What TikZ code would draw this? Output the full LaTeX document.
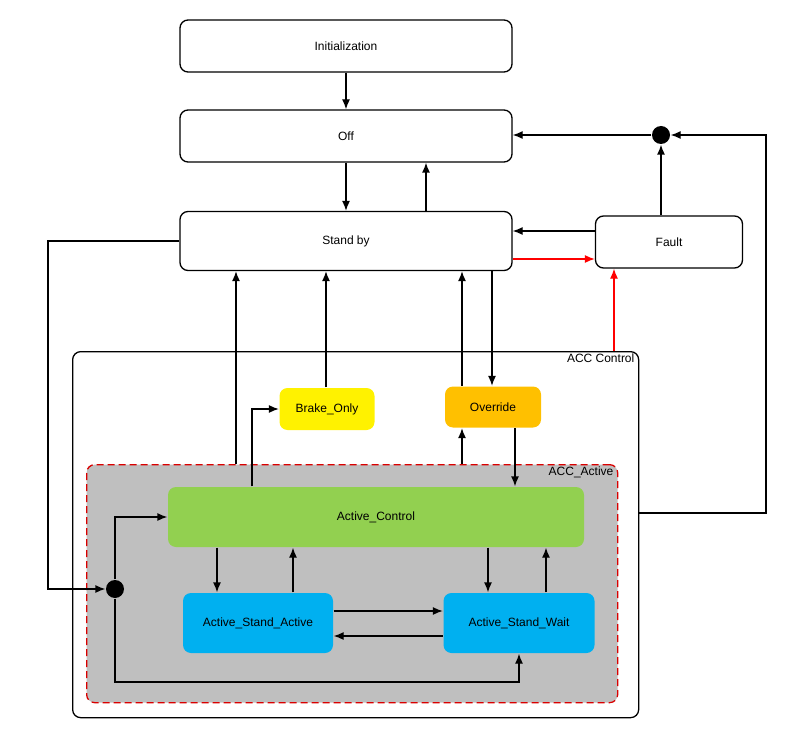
\documentclass[tikz,border=0pt]{standalone}
\usepackage{fontspec}
\setmainfont{Liberation Sans}
\usetikzlibrary{arrows.meta,positioning}
\definecolor{accgreen}{HTML}{92D050}
\definecolor{accorange}{HTML}{FFC000}
\definecolor{accblue}{HTML}{00B0F0}
\begin{document}
\begin{tikzpicture}
		[x=1pt, y=-1pt, font=\fontsize{12}{14}\selectfont, line width=1.3pt,
		% STYLES
		% The state style is used for the white states
		state/.style={rectangle, draw, rounded corners=8pt, fill=white, minimum width=332pt, minimum height=52pt},
		% coloured sub states
		sub/.style={rectangle, rounded corners=8pt, minimum height=60pt},
		% region frames
		region/.style={rectangle, draw, rounded corners=8pt, anchor=north west},
		% junction points
		junction/.style={circle, fill=black, inner sep=0pt, minimum size=18pt},
		arr/.style={-{Latex[length=10pt,width=8pt]}}]

		% Regions
		\node [region, minimum width=566pt, minimum height=366pt] (acc) at (72,351) {};
		\node [anchor=north east, inner sep=1pt] (acc-label) at (636,352) {ACC Control};
		\node [region, draw=red!85!black, dash pattern=on 7pt off 4pt, fill=black!25, minimum width=531pt, minimum height=238pt] (active) at (86,464) {};
		\node [anchor=north east, inner sep=1pt] (active-label) at (615,465) {ACC\_Active};

		% Draw states
		\node [state] (init) at (346,46) {Initialization};
		\node [state] (off) at (346,136) {Off};
		\node [state, minimum height=59pt] (standby) at (346,241) {Stand by};
		\node [state, minimum width=147pt] (fault) at (669,242) {Fault};
		\node [junction] (j1) at (661,135) {};

		\node [sub, fill=yellow, minimum width=95pt, minimum height=42pt] (brake) at (327,409) {Brake\_Only};
		\node [sub, fill=accorange, minimum width=96pt, minimum height=41pt] (override) at (493,407) {Override};
		\node [sub, fill=accgreen, minimum width=416pt] (control) at (376,517) {Active\_Control};
		\node [sub, fill=accblue, minimum width=150pt] (asa) at (258,623) {Active\_Stand\_Active};
		\node [sub, fill=accblue, minimum width=151pt] (asw) at (519,623) {Active\_Stand\_Wait};
		\node [junction] (j2) at (115,589) {};

		%%%%%%%%%%%%%%%%
		% Draw the transitions
		\draw[arr] (init) -- (off);
		\draw[arr] (off) -- (standby);
		\draw[arr] (standby.north -| 426,0) -- (off.south -| 426,0);
		\draw[arr] (fault.west |- 0,231) -- (standby.east |- 0,231);
		\draw[arr, red] (standby.east |- 0,259) -- (fault.west |- 0,259);
		\draw[arr] (fault.north -| j1) -- (j1);
		\draw[arr] (j1) -- (off.east |- j1);
		\draw[arr] (acc.east |- 0,513) -- (766,513) |- (j1);
		\draw[arr, red] (acc.north -| 614,0) -- (fault.south -| 614,0);
		\draw[arr] (standby.west) -- (48,241) |- (j2);
		\draw[arr] (active.north -| 236,0) -- (standby.south -| 236,0);
		\draw[arr] (brake.north -| 326,0) -- (standby.south -| 326,0);
		\draw[arr] (control.north -| 252,0) |- (brake.west);
		\draw[arr] (override.north -| 462,0) -- (standby.south -| 462,0);
		\draw[arr] (standby.south -| 492,0) -- (override.north -| 492,0);
		\draw[arr] (active.north -| 462,0) -- (override.south -| 462,0);
		\draw[arr] (override.south -| 515,0) -- (control.north -| 515,0);
		\draw[arr] (j2) |- (control.west);
		\draw[arr] (j2) -- (115,682) -| (asw.south);
		\draw[arr] (control.south -| 217,0) -- (asa.north -| 217,0);
		\draw[arr] (asa.north -| 293,0) -- (control.south -| 293,0);
		\draw[arr] (control.south -| 488,0) -- (asw.north -| 488,0);
		\draw[arr] (asw.north -| 546,0) -- (control.south -| 546,0);
		\draw[arr] (asa.east |- 0,611) -- (asw.west |- 0,611);
		\draw[arr] (asw.west |- 0,636) -- (asa.east |- 0,636);
		\useasboundingbox (0,0) rectangle (798,730);
\end{tikzpicture}
\end{document}
